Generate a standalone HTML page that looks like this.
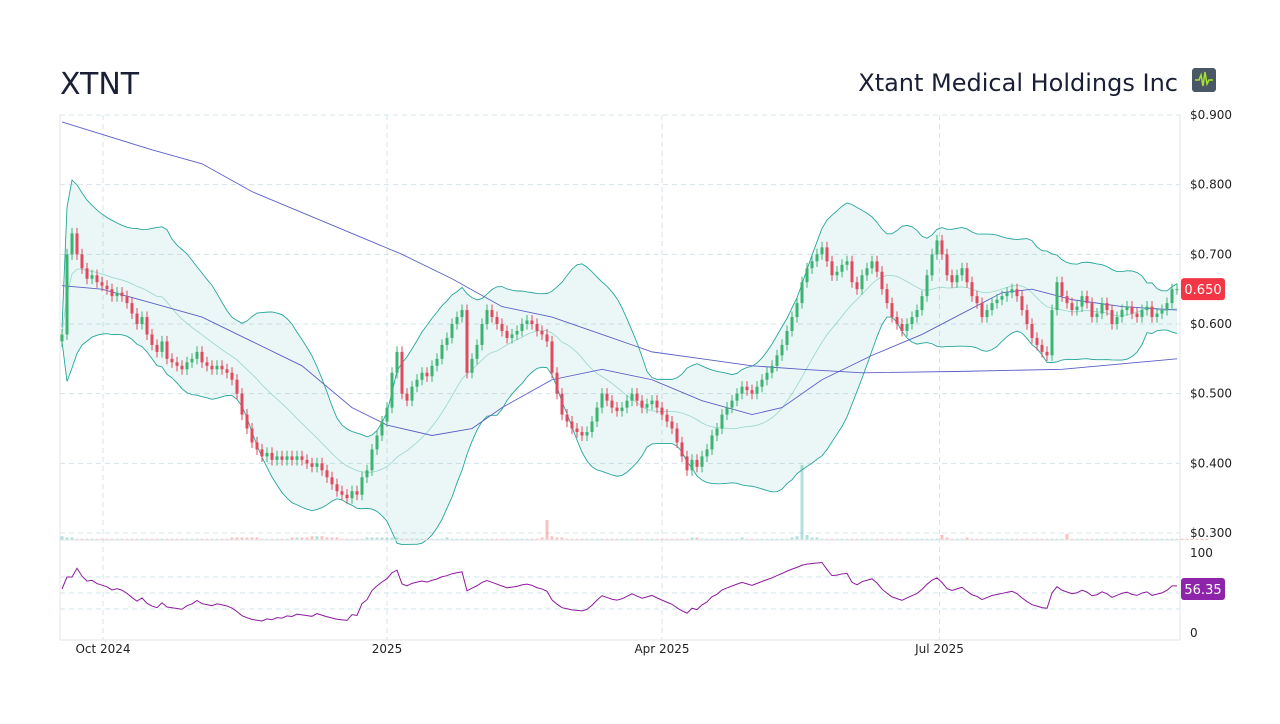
<!DOCTYPE html>
<html><head><meta charset="utf-8"><style>
body{margin:0;background:#fff;font-family:"DejaVu Sans","Liberation Sans",sans-serif;}
</style></head><body>
<svg width="1280" height="720" xmlns="http://www.w3.org/2000/svg" id="chart" font-family="DejaVu Sans, sans-serif">
<text x="60" y="94" font-size="30" fill="#1a1f36">XTNT</text>
<text x="1178" y="91" font-size="24" fill="#1a1f36" text-anchor="end">Xtant Medical Holdings Inc</text>
<g><rect x="1192" y="68" width="24" height="24" rx="3" fill="#4a5866"/><polyline points="1195,80 1199,80 1201,75 1203,86 1205,72 1207,84 1209,80 1213,80" fill="none" stroke="#a6e22e" stroke-width="1.5"/></g>
<g id="grid"></g>
<g id="bands"></g>
<g id="vol"></g>
<g id="lines"></g>
<g id="candles"></g>
<g id="rsi"></g>
<g id="axes"></g>
</svg>
<script>
const closes=[0.585,0.70,0.73,0.70,0.68,0.665,0.67,0.66,0.655,0.65,0.64,0.645,0.64,0.63,0.615,0.60,0.61,0.585,0.57,0.56,0.575,0.55,0.545,0.54,0.535,0.545,0.55,0.56,0.545,0.54,0.535,0.54,0.535,0.53,0.52,0.50,0.47,0.45,0.43,0.42,0.41,0.415,0.405,0.41,0.405,0.41,0.405,0.41,0.405,0.40,0.395,0.40,0.39,0.38,0.37,0.36,0.355,0.35,0.36,0.355,0.38,0.39,0.42,0.44,0.46,0.48,0.53,0.56,0.50,0.49,0.51,0.52,0.53,0.525,0.54,0.55,0.57,0.58,0.60,0.61,0.62,0.53,0.55,0.57,0.60,0.62,0.61,0.60,0.59,0.58,0.585,0.59,0.60,0.605,0.60,0.59,0.585,0.575,0.53,0.50,0.47,0.46,0.45,0.445,0.44,0.445,0.46,0.48,0.50,0.49,0.48,0.475,0.48,0.49,0.50,0.49,0.48,0.485,0.49,0.48,0.47,0.46,0.45,0.43,0.41,0.39,0.405,0.395,0.41,0.42,0.44,0.45,0.47,0.48,0.49,0.50,0.51,0.505,0.50,0.51,0.52,0.53,0.54,0.555,0.57,0.59,0.61,0.63,0.66,0.68,0.69,0.70,0.71,0.69,0.67,0.675,0.685,0.69,0.66,0.65,0.67,0.68,0.69,0.675,0.65,0.63,0.61,0.60,0.59,0.60,0.61,0.62,0.64,0.67,0.70,0.72,0.70,0.67,0.66,0.67,0.68,0.66,0.64,0.63,0.61,0.62,0.63,0.635,0.64,0.645,0.65,0.64,0.62,0.60,0.58,0.57,0.56,0.555,0.62,0.66,0.64,0.63,0.62,0.625,0.64,0.63,0.61,0.615,0.63,0.62,0.60,0.61,0.62,0.625,0.615,0.61,0.62,0.625,0.61,0.615,0.62,0.63,0.65,0.65];
const volumes=[3,2,2,1,1,1,1,1,1,1,1,1,1,1,1,1,1,1,1,1,1,1,1,1,1,1,1,1,1,1,1,1,1,1,2,2,2,2,2,2,1,1,1,1,1,1,2,2,2,2,3,3,3,2,2,2,1,1,1,1,1,2,2,2,2,2,2,2,1,1,1,1,1,1,1,1,1,2,1,1,1,1,1,1,1,1,1,1,1,1,1,1,1,1,1,1,2,16,3,2,2,1,1,1,1,1,1,1,1,1,1,1,1,1,1,1,1,1,1,1,1,1,1,1,1,1,2,2,1,1,1,1,1,1,1,1,2,1,1,1,1,1,1,1,1,1,2,3,60,4,2,2,1,1,1,1,1,1,1,1,1,1,1,1,1,1,1,1,1,1,1,1,1,1,1,1,4,2,1,1,1,2,1,1,1,1,1,1,1,1,1,1,1,1,1,1,1,1,1,1,1,5,1,1,1,1,1,1,1,1,1,1,1,1,1,1,1,1,1,1,1,1,1,1,1,1,1,1,1,1];
const sma200Idx=[0,18,28,38,48,58,68,78,88,98,108,118,128,138,148,160,180,200,223];
const sma200Val=[0.89,0.85,0.83,0.79,0.76,0.73,0.70,0.665,0.625,0.61,0.585,0.56,0.55,0.54,0.535,0.53,0.532,0.535,0.55];
const sma50Idx=[0,8,18,28,38,48,58,65,74,82,88,98,108,118,128,138,144,152,162,172,180,188,194,202,212,223];
const sma50Val=[0.655,0.65,0.63,0.61,0.575,0.54,0.48,0.455,0.44,0.45,0.48,0.52,0.535,0.52,0.49,0.47,0.48,0.52,0.555,0.585,0.615,0.645,0.65,0.635,0.625,0.62];
const yTicks=[0.9,0.8,0.7,0.6,0.5,0.4,0.3];
const xLabels=["Oct 2024","2025","Apr 2025","Jul 2025"];
const xLabelIdx=[8.2,65,120,175.5];

const NS="http://www.w3.org/2000/svg";
const X0=62,X1=1177,N=closes.length;
const x=i=>X0+i*(X1-X0)/(N-1);
const y=p=>115+(0.9-p)*696.7;
const ry=v=>633-v*0.8;
function mk(tag,attrs,parent){const e=document.createElementNS(NS,tag);for(const k in attrs)e.setAttribute(k,attrs[k]);document.getElementById(parent).appendChild(e);return e;}

yTicks.forEach(t=>{const l=mk('line',{x1:60,x2:1180,y1:y(t),y2:y(t),stroke:'#d6e4ea','stroke-dasharray':'5,4'},'grid');


const tx=mk('text',{x:1190,y:y(t)+4,'font-size':12,fill:'#222'},'axes');tx.textContent='$'+t.toFixed(3);

});
xLabelIdx.forEach((ix,k)=>{const l=mk('line',{x1:x(ix),x2:x(ix),y1:115,y2:640,stroke:'#d6e4ea','stroke-dasharray':'5,4'},'grid');


const tx=mk('text',{x:x(ix),y:653,'font-size':12,fill:'#222','text-anchor':'middle'},'axes');tx.textContent=xLabels[k];

});
[[60,115,60,640],[1180,115,1180,640],[60,540,1180,540],[60,640,1180,640]].forEach(a=>{const l=mk('line',{x1:a[0],y1:a[1],x2:a[2],y2:a[3],stroke:'#e0e6ea'},'axes');

});

const up=[],lo=[],mid=[];
for(let i=0;i<N;i++){const s=closes.slice(Math.max(0,i-19),i+1);const m=s.reduce((a,b)=>a+b,0)/s.length;const sd=Math.sqrt(s.reduce((a,b)=>a+(b-m)*(b-m),0)/s.length);up.push(m+2*sd+0.01);lo.push(m-2*sd-0.01);mid.push(m);}
let d='M'+up.map((v,i)=>x(i)+','+y(v)).join('L')+'L'+lo.map((v,i)=>x(i)+','+y(v)).reverse().join('L')+'Z';
const bf=mk('path',{d:d,fill:'rgba(38,166,154,0.09)',stroke:'none'},'bands');


[[up,'#26a69a'],[lo,'#26a69a'],[mid,'#9fd9d0']].forEach(([arr,c])=>{const p=mk('polyline',{points:arr.map((v,i)=>x(i)+','+y(v)).join(' '),fill:'none',stroke:c,'stroke-width':0.9},'bands');

});

volumes.forEach((v,i)=>{const g=i===0||closes[i]>=closes[i-1];const r=mk('rect',{x:x(i)-1.5,y:540-v*1.25,width:3,height:v*1.25,fill:g?'rgba(38,166,154,0.35)':'rgba(239,83,80,0.35)'},'vol');

});

[[sma200Idx,sma200Val],[sma50Idx,sma50Val]].forEach(([ix,vv])=>{const p=mk('polyline',{points:ix.map((k,j)=>x(k)+','+y(vv[j])).join(' '),fill:'none',stroke:'#5b5fc7','stroke-width':0.9},'lines');

});

closes.forEach((c,i)=>{const o=i?closes[i-1]:c-0.01;const g=c>=o;const col=g?'#3bb371':'#e04a5f';const hi=Math.max(o,c)+0.008,lw=Math.min(o,c)-0.008;
const w=mk('line',{x1:x(i),x2:x(i),y1:y(hi),y2:y(lw),stroke:col,'stroke-width':1},'candles');


const b=mk('rect',{x:x(i)-1.5,y:y(Math.max(o,c)),width:3,height:Math.max(1,y(Math.min(o,c))-y(Math.max(o,c))),fill:col},'candles');

});

const rsi=[];let ag=0,al=0;
for(let i=0;i<N;i++){if(i===0){rsi.push(55);continue;}const ch=closes[i]-closes[i-1];const g=Math.max(ch,0),l=Math.max(-ch,0);ag=(ag*13+g)/14;al=(al*13+l)/14;rsi.push(al===0?70:100-100/(1+ag/al));}
[70,50,30].forEach(v=>{const l=mk('line',{x1:60,x2:1180,y1:ry(v),y2:ry(v),stroke:'#cfe6ea','stroke-dasharray':'5,4'},'rsi');

});
const rp=mk('polyline',{points:rsi.map((v,i)=>x(i)+','+ry(v)).join(' '),fill:'none',stroke:'#8e1a9e','stroke-width':1},'rsi');


[[100,'100'],[0,'0']].forEach(([v,t])=>{const tx=mk('text',{x:1190,y:ry(v)+4,'font-size':12,fill:'#222'},'axes');tx.textContent=t;

});

function badge(yy,txt,col,name){const r=mk('rect',{x:1181,y:yy-11,width:44,height:22,rx:3,fill:col},'axes');


const t=mk('text',{x:1203,y:yy+5,'font-size':13,fill:'#fff','text-anchor':'middle'},'axes');t.textContent=txt;

}
badge(y(closes[N-1]),closes[N-1].toFixed(3),'#f23645','price-badge');
badge(589,'56.35','#8e24aa','rsi-badge');
</script>
</body></html>
